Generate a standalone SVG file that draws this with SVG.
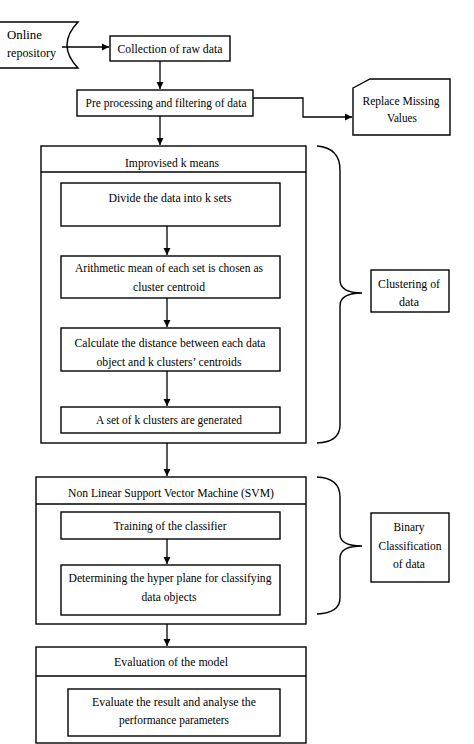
<svg xmlns="http://www.w3.org/2000/svg" width="474" height="744" viewBox="0 0 474 744">
<style>
.b{fill:#fff;stroke:#000;stroke-width:1.4}
.n{fill:none;stroke:#000;stroke-width:1.4}
.c{fill:none;stroke:#000;stroke-width:1.3}
text{font-family:"Liberation Serif","Times New Roman",serif;font-size:13px;fill:#000;text-anchor:middle}
</style>
<defs>
<marker id="ah" markerWidth="8" markerHeight="8" refX="7" refY="4" orient="auto" markerUnits="userSpaceOnUse">
<path d="M0,0.5 L7,4 L0,7.5 Z" fill="#000"/>
</marker>
</defs>
<rect width="474" height="744" fill="#fff"/>
<g id="online">
<path class="n" d="M-2,22 H78 Q56,45 78,68 H-2"/>
<text x="7" y="39" style="text-anchor:start" textLength="35" lengthAdjust="spacingAndGlyphs">Online</text>
<text x="7" y="57" style="text-anchor:start" textLength="49" lengthAdjust="spacingAndGlyphs">repository</text>
</g>
<g id="collection">
<rect class="b" x="110" y="36" width="120" height="25"/>
<text x="170" y="53" textLength="105" lengthAdjust="spacingAndGlyphs">Collection of raw data</text>
</g>
<g id="preprocessing">
<rect class="b" x="77" y="90" width="176" height="26"/>
<text x="166" y="107" textLength="161" lengthAdjust="spacingAndGlyphs">Pre processing and filtering of data</text>
</g>
<g id="replace">
<path class="b" d="M353,88 L370,79 H450 V135 H353 Z"/>
<text x="401" y="105" textLength="77" lengthAdjust="spacingAndGlyphs">Replace Missing</text>
<text x="402" y="122" textLength="30" lengthAdjust="spacingAndGlyphs">Values</text>
</g>
<g id="kmeans">
<rect class="b" x="41" y="146" width="265" height="297"/>
<line class="n" x1="41" y1="172" x2="306" y2="172"/>
<text x="172" y="167" textLength="94" lengthAdjust="spacingAndGlyphs">Improvised k means</text>
</g>
<g id="divide">
<rect class="b" x="61" y="183" width="219" height="43"/>
<text x="170" y="202" textLength="123" lengthAdjust="spacingAndGlyphs">Divide the data into k sets</text>
</g>
<g id="arith">
<rect class="b" x="61" y="256" width="219" height="42"/>
<text x="169" y="272" textLength="188" lengthAdjust="spacingAndGlyphs">Arithmetic mean of each set is chosen as</text>
<text x="169" y="291" textLength="72" lengthAdjust="spacingAndGlyphs">cluster centroid</text>
</g>
<g id="calc">
<rect class="b" x="61" y="328" width="219" height="43"/>
<text x="170" y="347" textLength="191" lengthAdjust="spacingAndGlyphs">Calculate the distance between each data</text>
<text x="169" y="366" textLength="145" lengthAdjust="spacingAndGlyphs">object and k clusters’ centroids</text>
</g>
<g id="set">
<rect class="b" x="61" y="407" width="219" height="26"/>
<text x="169" y="424" textLength="146" lengthAdjust="spacingAndGlyphs">A set of k clusters are generated</text>
</g>
<g id="brace1">
<path class="n" d="M317,146 Q340,148 340,170 L340,280 Q340,293 362,293 Q340,293 340,306 L340,425 Q340,442 317,443"/>
</g>
<g id="clustering">
<rect class="b" x="371" y="270" width="78" height="42"/>
<text x="409" y="288" textLength="62" lengthAdjust="spacingAndGlyphs">Clustering of</text>
<text x="409" y="306" textLength="20" lengthAdjust="spacingAndGlyphs">data</text>
</g>
<g id="svm">
<rect class="b" x="36" y="477" width="270" height="147"/>
<line class="n" x1="36" y1="504" x2="306" y2="504"/>
<text x="171" y="497" textLength="206" lengthAdjust="spacingAndGlyphs">Non Linear Support Vector Machine (SVM)</text>
</g>
<g id="training">
<rect class="b" x="61" y="512" width="219" height="27"/>
<text x="170" y="530" textLength="113" lengthAdjust="spacingAndGlyphs">Training of the classifier</text>
</g>
<g id="hyperplane">
<rect class="b" x="61" y="565" width="219" height="50"/>
<text x="170" y="582" textLength="203" lengthAdjust="spacingAndGlyphs">Determining the hyper plane for classifying</text>
<text x="169" y="601" textLength="55" lengthAdjust="spacingAndGlyphs">data objects</text>
</g>
<g id="brace2">
<path class="n" d="M317,477 Q340,478 340,497 L340,534 Q340,546 362,546 Q340,546 340,558 L340,598 Q340,613 317,614"/>
</g>
<g id="binary">
<rect class="b" x="371" y="513" width="78" height="69"/>
<text x="409" y="531" textLength="31" lengthAdjust="spacingAndGlyphs">Binary</text>
<text x="410" y="550" textLength="63" lengthAdjust="spacingAndGlyphs">Classification</text>
<text x="409" y="568" textLength="32" lengthAdjust="spacingAndGlyphs">of data</text>
</g>
<g id="evaluation">
<rect class="b" x="36" y="647" width="270" height="96"/>
<line class="n" x1="36" y1="676" x2="306" y2="676"/>
<text x="171" y="666" textLength="114" lengthAdjust="spacingAndGlyphs">Evaluation of the model</text>
</g>
<g id="evaluate">
<rect class="b" x="68" y="689" width="212" height="47"/>
<text x="174" y="706" textLength="164" lengthAdjust="spacingAndGlyphs">Evaluate the result and analyse the</text>
<text x="174" y="724" textLength="110" lengthAdjust="spacingAndGlyphs">performance parameters</text>
</g>
<g id="connectors">
<path class="c" d="M62,47 H109" marker-end="url(#ah)"/>
<path class="c" d="M160,61 V89" marker-end="url(#ah)"/>
<path class="c" d="M253,98 H303 V117 H352" marker-end="url(#ah)"/>
<path class="c" d="M160,116 V145" marker-end="url(#ah)"/>
<path class="c" d="M167,226 V255" marker-end="url(#ah)"/>
<path class="c" d="M167,298 V327" marker-end="url(#ah)"/>
<path class="c" d="M167,371 V406" marker-end="url(#ah)"/>
<path class="c" d="M167,443 V476" marker-end="url(#ah)"/>
<path class="c" d="M167,539 V564" marker-end="url(#ah)"/>
<path class="c" d="M167,624 V646" marker-end="url(#ah)"/>
</g>
</svg>
